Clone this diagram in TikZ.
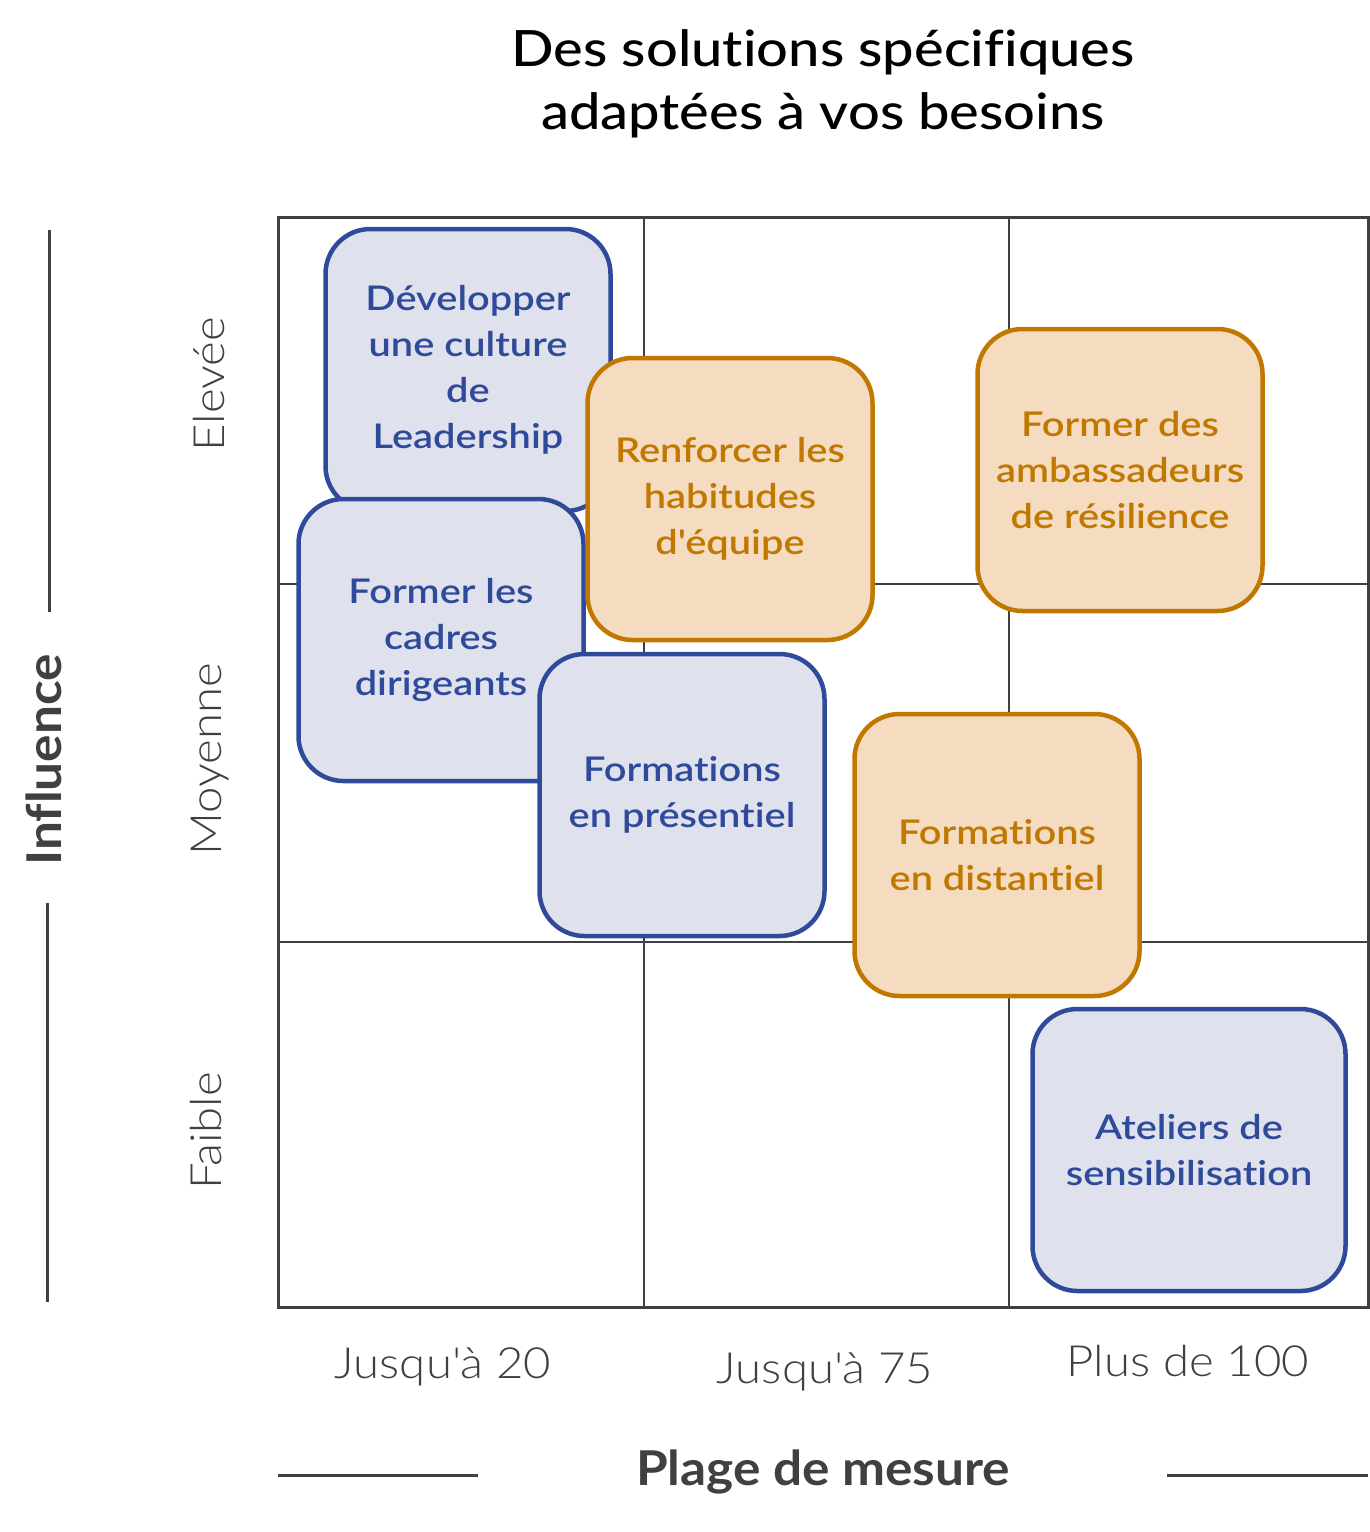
\documentclass[tikz,border=0pt]{standalone}
\usepackage{fontspec}
\usepackage{graphicx}
\setmainfont{Lato}
\newfontfamily\medfont[FakeStretch=1.17, Ligatures=NoCommon]{Lato Semibold}
\newfontfamily\titlefont[FakeStretch=1.12, Ligatures=NoCommon]{Lato Medium}
\newfontfamily\lightfont[FakeStretch=1.1, Ligatures=NoCommon]{Lato Light}
\newfontfamily\boldfont[FakeStretch=1.07, Ligatures=NoCommon]{Lato Bold}
\newcommand\apos{\char"0027\relax}
\definecolor{bluetxt}{HTML}{2F4A9A}
\definecolor{bluefill}{HTML}{DFE1ED}
\definecolor{orgtxt}{HTML}{C07800}
\definecolor{orgfill}{HTML}{F5DBBF}
\definecolor{gridc}{HTML}{404040}
\tikzset{
  boxbase/.style={rounded corners=45pt, line width=4.5pt, minimum width=285pt, minimum height=282pt,
    align=center, inner sep=0pt, font=\medfont\fontsize{34}{46}\selectfont},
  bbox/.style={boxbase, draw=bluetxt, fill=bluefill, text=bluetxt},
  obox/.style={boxbase, draw=orgtxt, fill=orgfill, text=orgtxt},
  gridframe/.style={draw=gridc, line width=3pt},
  gridline/.style={draw=gridc, line width=2pt},
  axline/.style={draw=gridc, line width=3pt},
  axlab/.style={text=gridc, font=\lightfont\fontsize{43}{50}\selectfont, inner sep=0pt, anchor=base},
  axtitle/.style={text=gridc, font=\boldfont\fontsize{48}{56}\selectfont, inner sep=0pt, anchor=base},
}
\begin{document}
\begin{tikzpicture}[x=1pt, y=-1pt]
\useasboundingbox (0,0) rectangle (1370,1532);
% title
\node[align=center, font=\titlefont\fontsize{50}{63}\selectfont, text=black, inner sep=0pt] (title) at (823,84)
  {Des solutions spécifiques\\adaptées à vos besoins};
% grid
\coordinate (g00) at (278,217);
\coordinate (g11) at (1368,1307);
\coordinate (v1t) at (644,217); \coordinate (v1b) at (644,1307);
\coordinate (v2t) at (1009,217); \coordinate (v2b) at (1009,1307);
\coordinate (h1l) at (278,584); \coordinate (h1r) at (1368,584);
\coordinate (h2l) at (278,942); \coordinate (h2r) at (1368,942);
\draw[gridline] (v1t) -- (v1b);
\draw[gridline] (v2t) -- (v2b);
\draw[gridline] (h1l) -- (h1r);
\draw[gridline] (h2l) -- (h2r);
\draw[gridframe] (g00) rectangle (g11);
% boxes
\node[bbox] (dev) at (468,370) {Développer\\une culture\\de\\Leadership};
\node[bbox] (cadres) at (441,640) {Former les\\cadres\\dirigeants};
\node[obox] (renf) at (730,499) {Renforcer les\\habitudes\\d\apos équipe};
\node[obox] (amb) at (1120,470) {Former des\\ambassadeurs\\de résilience};
\node[bbox] (pres) at (682,795) {Formations\\en présentiel};
\node[obox] (dist) at (997,855) {Formations\\en distantiel};
\node[bbox, minimum width=313pt] (atel) at (1189,1150) {Ateliers de\\sensibilisation};
% column labels
\node[axlab] (c1) at (443,1378) {Jusqu\apos à 20};
\node[axlab] (c2) at (825,1383) {Jusqu\apos à 75};
\node[axlab] (c3) at (1188,1376) {Plus de\hspace{13pt}100};
% row labels
\node[axlab, rotate=90] (r1) at (224,384) {Elevée};
\node[axlab, rotate=90] (r2) at (221,759) {Moyenne};
\node[axlab, rotate=90] (r3) at (221,1131) {Faible};
% axis titles
\node[axtitle] (xt) at (823,1485) {Plage de mesure};
\node[axtitle, rotate=90] (yt) at (61,760) {Influence};
\coordinate (ya) at (49,230); \coordinate (yb) at (49,612);
\coordinate (yc) at (47,903); \coordinate (yd) at (47,1302);
\draw[axline] (ya) -- (yb);
\draw[axline] (yc) -- (yd);
\coordinate (xa) at (278,1475); \coordinate (xb) at (478,1475);
\coordinate (xc) at (1167,1475); \coordinate (xd) at (1368,1475);
\draw[axline] (xa) -- (xb);
\draw[axline] (xc) -- (xd);
\end{tikzpicture}
\end{document}
